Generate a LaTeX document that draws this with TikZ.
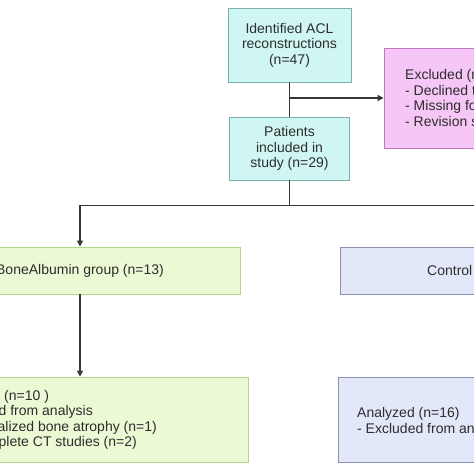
\documentclass[tikz,border=0pt]{standalone}
\usepackage{fontspec}
\setmainfont{Liberation Sans}
\usetikzlibrary{positioning,arrows.meta,calc}
\definecolor{cyanfill}{RGB}{207,246,243}
\definecolor{cyanline}{RGB}{125,175,172}
\definecolor{pinkfill}{RGB}{246,198,246}
\definecolor{pinkline}{RGB}{190,120,190}
\definecolor{greenfill}{RGB}{236,249,213}
\definecolor{greenline}{RGB}{178,214,140}
\definecolor{bluefill}{RGB}{226,231,250}
\definecolor{blueline}{RGB}{140,146,172}
\definecolor{linegray}{RGB}{55,55,55}
\definecolor{textgray}{RGB}{45,45,45}

\begin{document}
\begin{tikzpicture}[x=1pt, y=-1pt,
    box/.style={draw, line width=0.8pt, inner sep=0pt, align=center, text=textgray,
        font=\fontsize{14}{15.5}\selectfont},
    txt/.style={inner sep=0pt, align=left, text=textgray, font=\fontsize{14}{15.5}\selectfont},
    link/.style={draw=linegray, line width=1.2pt},
    arr/.style={link, -{Triangle[length=6pt, width=6pt]}}]

\useasboundingbox (0,0) rectangle (474,474);
\clip (0,0) rectangle (474,474);
\fill[white] (0,0) rectangle (474,474);

% Enrolment
\node[box, draw=cyanline, fill=cyanfill, minimum width=123pt, minimum height=74pt] (ident) at (289.5,45)
    {Identified ACL\\reconstructions\\(n=47)};
\node[box, draw=cyanline, fill=cyanfill, minimum width=120pt, minimum height=63pt] (incl) at (289.5,148.5)
    {Patients\\included in\\study (n=29)};

% Exclusions
\node[box, draw=pinkline, fill=pinkfill, minimum width=176pt, minimum height=100pt] (excl) at (472,98) {};
\node[txt, anchor=west] (excltxt) at (405,98) {Excluded (n\\- Declined t\\- Missing fo\\- Revision s};

% Groups
\node[box, draw=greenline, fill=greenfill, minimum width=320pt, minimum height=47pt] (bone) at (80,270.5)
    {BoneAlbumin group (n=13)};
\node[box, draw=blueline, fill=bluefill, minimum width=320pt, minimum height=47pt] (ctrl) at (500,270.5) {};
\node[txt, anchor=base west] (ctrltxt) at (427,275) {Control};

% Analysis
\node[box, draw=greenline, fill=greenfill, minimum width=336pt, minimum height=85.5pt] (boneres) at (80,419.75) {};
\node[txt, anchor=base west] (bonetxt1) at (4,400) {(n=10 )};
\foreach \ty/\tx/\line [count=\i from 2] in {415.5/93/{d from analysis},
    431/157/{alized bone atrophy (n=1)}, 446.5/137/{plete CT studies (n=2)}} {
    \node[txt, anchor=base east] (bonetxt\i) at (\tx,\ty) {\line};
}
\node[box, draw=blueline, fill=bluefill, minimum width=336pt, minimum height=85.5pt] (ctrlres) at (506,419.75) {};
\node[txt, anchor=west] (ctrlrestxt) at (357,420.5) {Analyzed (n=16)\\- Excluded from an};

% Connectors
\draw[link] (ident.south) -- (incl.north);
\coordinate (fork) at (ident.south |- excl.west);
\draw[arr] (fork) -- (excl.west);
\coordinate (split) at ($(incl.south)+(0,25)$);
\draw[link] (incl.south) -- (split);
\draw[arr] (split) -| (bone.north);
\draw[arr] (split) -| (ctrl.north);
\draw[arr] (bone.south) -- (boneres.north);

\end{tikzpicture}
\end{document}
